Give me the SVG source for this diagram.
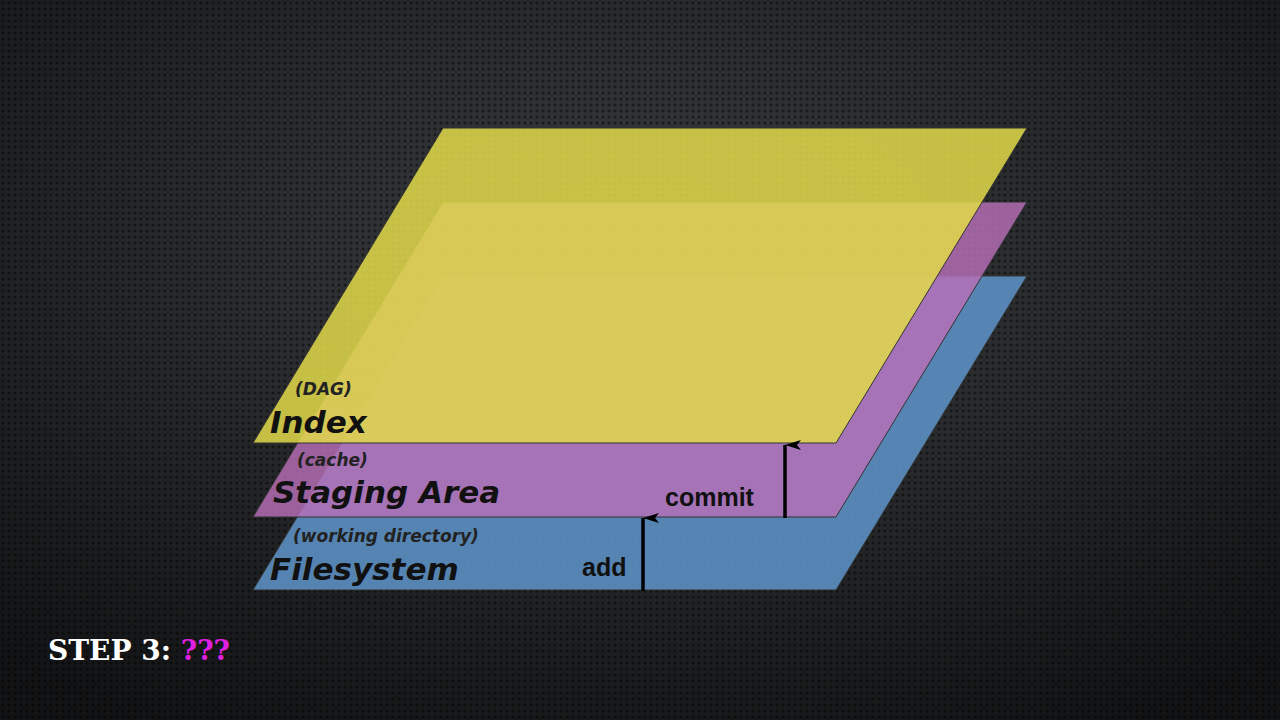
<svg xmlns="http://www.w3.org/2000/svg" width="1280" height="720" viewBox="0 0 1280 720">
<defs>
<radialGradient id="bg" cx="0.5" cy="0.35" r="0.75">
<stop offset="0" stop-color="#3a3d40"/><stop offset="1" stop-color="#121314"/>
</radialGradient>
<pattern id="dots" width="6" height="6" patternUnits="userSpaceOnUse">
<circle cx="3" cy="3" r="1.6" fill="#000" opacity="0.45"/>
</pattern>
<marker id="ah" viewBox="0 0 10 16" refX="5" refY="0" markerWidth="10" markerHeight="16" markerUnits="userSpaceOnUse" orient="auto-start-reverse">
<path d="M0,16 L5,0 L10,16 L5,12 Z" fill="#000"/>
</marker>
</defs>
<style>
.lbl{font-family:"DejaVu Sans",sans-serif;font-style:italic;font-weight:bold;fill:#111}
.sub{font-family:"DejaVu Sans",sans-serif;font-style:italic;font-weight:bold;fill:#222;font-size:17px}
.op{font-family:"Liberation Sans",Arial,sans-serif;font-weight:bold;fill:#111;font-size:25px}
.edge{stroke:#333;stroke-width:1}
</style>
<rect width="1280" height="720" fill="url(#bg)"/>
<rect width="1280" height="720" fill="url(#dots)"/>
<g id="filesystem">
<polygon class="edge" points="443,276 1027,276 836,590 253,590" fill="#5b8dbf" fill-opacity="0.92"/>
<text class="sub" x="293" y="542">(working directory)</text>
<text class="lbl" x="270" y="580" font-size="31">Filesystem</text>
</g>
<g id="staging">
<polygon class="edge" points="443,202 1027,202 836,517 253,517" fill="#b86fb8" fill-opacity="0.82"/>
<text class="sub" x="297" y="466">(cache)</text>
<text class="lbl" x="273" y="503" font-size="31">Staging Area</text>
</g>
<g id="index">
<polygon class="edge" points="443,128 1027,128 836,443 253,443" fill="#e2da4a" fill-opacity="0.85"/>
<text class="sub" x="295" y="395">(DAG)</text>
<text class="lbl" x="270" y="433" font-size="31">Index</text>
</g>
<g id="connectors">
<line x1="785" y1="518" x2="785" y2="445" stroke="#000" stroke-width="3.5" marker-end="url(#ah)"/>
<line x1="643" y1="591" x2="643" y2="518" stroke="#000" stroke-width="3.5" marker-end="url(#ah)"/>
<text class="op" x="665" y="506">commit</text>
<text class="op" x="582" y="576">add</text>
</g>
<text x="48" y="660" font-family="'DejaVu Serif',serif" font-weight="bold" font-size="28" fill="#fff">STEP 3: <tspan fill="#e020e0">???</tspan></text>
</svg>
